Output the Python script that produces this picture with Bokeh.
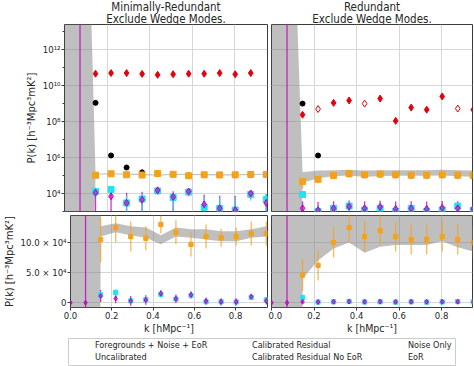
import numpy as np
from bokeh.plotting import figure
from bokeh.models import (Range1d, FixedTicker, Legend, LegendItem, Spacer, PrintfTickFormatter,
                          CustomJSTickFormatter)
from bokeh.layouts import column, row
from bokeh.embed import file_html
from bokeh.resources import INLINE
from bokeh.core.properties import value

nan = float("nan")

# ---------------- data ----------------
k_bins = [0.0, 0.073, 0.146, 0.219, 0.292, 0.365, 0.438, 0.511, 0.584, 0.657, 0.730, 0.803, 0.876, 0.949]
k_meas = k_bins[2:]

# Minimally-Redundant
fg_mr = [1.1e9, 1.3e6, 2.8e5, 1.5e5, 1.2e5, 1.15e5, 1.0e5, 1.1e5, 1.05e5, 1.05e5, 1.1e5, 1.1e5]
uncal_mr = [4.6e10, 5.0e10, 5.0e10, 4.5e10, 4.0e10, 4.3e10, 4.6e10, 4.6e10, 5.0e10, 4.3e10, 5.0e10, nan]
cal_mr = [10.5e4, 12.5e4, 11.0e4, 10.7e4, 13.0e4, 11.7e4, 9.7e4, 11.0e4, 10.8e4, 11.0e4, 11.5e4, 11.5e4]
cal_mr_err = [3.8e4, 2.5e4, 2.5e4, 2.0e4, 1.5e4, 2.0e4, 2.0e4, 2.0e4, 1.5e4, 1.5e4, 2.0e4, 2.0e4]
cal_noeor_mr = [1.3e4, 1.7e4, 3.0e3, 5.0e3, 1.4e4, 6.0e3, 1.2e4, 1.7e3, 1.5e3, 1.2e3, 9.0e3, 4.6e3]
cal_noeor_mr_err = [6e3, 5e3, 5e3, 5e3, 5e3, 5e3, 5e3, 5e3, 5e3, 5e3, 5e3, 5e3]
noise_mr = [0.0, 0.0, 1.1e4, 7e3, 3e3, 4.5e3, 1.5e4, 6.5e3, 1.3e4, 2.5e3, 1.5e3, 1.2e3, 1.0e4, 3e3]
noise_mr_err = [0.0, 1e40, 1.0e4, 8e3, 8e3, 8e3, 6e3, 7e3, 6e3, 6e3, 6e3, 6e3, 5e3, 6e3]
eor_lo_mr = [-1e37, -1e37, 11.0e4, 11.7e4, 11.2e4, 10.8e4, 9.7e4, 11.0e4, 10.8e4, 10.5e4, 10.2e4, 10.2e4, 10.8e4, 11.0e4]
eor_hi_mr = [1e37, 1e37, 12.7e4, 13.2e4, 12.7e4, 12.5e4, 11.2e4, 12.5e4, 12.2e4, 12.2e4, 11.9e4, 11.9e4, 12.2e4, 12.7e4]

# Redundant
fg_r = [1.0e9, 1.3e6, 1.0e5, 1.2e5, 1.05e5, 1.15e5, 1.05e5, 1.0e5, 1.0e5, 1.05e5, 1.0e5, 0.95e5]
uncal_r = [2.4e8, -5.0e8, 1.1e9, 1.5e9, -1.0e9, 1.9e9, 1.1e8, 6.0e8, 4.6e8, 2.5e9, -5.3e8, 4.6e8]
cal_r = [4.6e4, 6.2e4, 1.0e5, 1.25e5, 1.1e5, 1.2e5, 1.1e5, 1.05e5, 1.05e5, 1.1e5, 1.05e5, 1.0e5]
cal_r_err = [2.7e4, 2.5e4, 2.5e4, 2.5e4, 2.5e4, 2.5e4, 2.5e4, 2.5e4, 2.5e4, 2.5e4, 2.5e4, 2.5e4]
cal_noeor_r = [8.8e3, 1.0e3, 1.5e3, 2.0e3, 1.2e3, 1.5e3, 1.0e3, 1.5e3, 1.0e3, 1.2e3, 2.0e3, 1.2e3]
cal_noeor_r_err = [3e3, 1e3, 1e3, 1e3, 1e3, 1e3, 1e3, 1e3, 1e3, 1e3, 1e3, 1e3]
noise_r = [0.0, 0.0, 1.5e3, 1.2e3, 1.5e3, 1.9e3, 1.5e3, 1.8e3, 1.4e3, 1.5e3, 1.4e3, 1.6e3, 1.5e3, 1.4e3]
noise_r_err = [0.0, 1e40, 2.2e3, 2.2e3, 2.2e3, 2.2e3, 2.2e3, 2.2e3, 2.2e3, 2.2e3, 2.2e3, 2.2e3, 2.2e3, 2.2e3]
eor_lo_r = [-1e30, -1e30, 4.0e4, 7.0e4, 9.0e4, 10.0e4, 8.3e4, 9.3e4, 9.6e4, 9.6e4, 9.6e4, 10.2e4, 9.2e4, 8.5e4]
eor_hi_r = [1e30, 1e30, 1.5e5, 1.9e5, 2.0e5, 2.1e5, 1.9e5, 2.0e5, 2.0e5, 2.0e5, 2.0e5, 2.1e5, 2.0e5, 1.9e5]

titles = {"L": ["Minimally-Redundant", "Exclude Wedge Modes."],
          "R": ["Redundant", "Exclude Wedge Modes."]}
y_label = "P(k) [h⁻³Mpc³mK²]"
x_label = "k [hMpc⁻¹]"
x_ticks = [0.0, 0.2, 0.4, 0.6, 0.8]
log_ticks = [1e4, 1e6, 1e8, 1e10, 1e12]
log_labels = ["10⁴", "10⁶", "10⁸", "10¹⁰", "10¹²"]
log_minor = [1e3, 1e5, 1e7, 1e9, 1e11, 1e13]
lin_ticks = [0.0, 5e4, 1e5]
lin_labels = ["0", "5.0 × 10⁴", "10.0 × 10⁴"]

legend_labels = ["Foregrounds + Noise + EoR", "Uncalibrated", "Calibrated Residual",
                 "Calibrated Residual No EoR", "Noise Only", "EoR"]

# ---------------- style / layout ----------------
FONT_H = "DejaVu Sans Condensed"
FONT_V = "DejaVu Sans"
TXT = "#262626"
C_FG, C_UNC, C_CAL, C_NOEOR, C_NOISE, C_EOR = "black", "#e3000f", "#f5a21b", "#22e3f0", "#bf00bf", "grey"
PX_PER_K = 212.6
FW = {"L": 203, "R": 201}
BORD = {"L": (64, 1), "R": (3, 2)}
LOG_RANGE = (1e3, 10 ** 13.4)
LIN_RANGE = (-0.8e4, 14.5e4)
LOG_CLIP = 1e-30
LIN_CLIP = 1e7
HDR_H = 24


def x_max(side):
    return FW[side] / PX_PER_K


def tick_fmt(tv, tl):
    return CustomJSTickFormatter(args=dict(tvals=list(tv), tlabs=list(tl)),
                                 code="const i = tvals.indexOf(tick); return i < 0 ? '' : tlabs[i];")


def make_header(side):
    ml, mr = BORD[side]
    h = figure(width=ml + FW[side] + mr, height=HDR_H, output_backend="svg", toolbar_location=None,
               title=None, x_range=Range1d(0, x_max(side)), y_range=Range1d(0, 1),
               x_axis_location=None, y_axis_location=None,
               min_border_left=ml, min_border_right=mr, min_border_top=0, min_border_bottom=0)
    h.grid.visible = False
    h.outline_line_color = None
    xc = x_max(side) / 2
    h.text(x=[xc, xc], y=[0.75, 0.25], text=titles[side], text_align="center",
           text_baseline="middle", text_font=value(FONT_H), text_font_size="11.5px", text_color=TXT)
    return h


def make_fig(kind, side):
    ml, mr = BORD[side]
    mt, fh, mb = (0, 187, 4) if kind == "log" else (0, 92, 30)
    p = figure(width=ml + FW[side] + mr, height=mt + fh + mb, output_backend="svg",
               toolbar_location=None, title=None,
               x_range=Range1d(0, x_max(side)),
               y_range=Range1d(*(LOG_RANGE if kind == "log" else LIN_RANGE)),
               y_axis_type="log" if kind == "log" else "linear",
               x_axis_location="below" if kind == "lin" else None,
               y_axis_location="left" if side == "L" else None,
               min_border_left=ml, min_border_right=mr, min_border_top=mt, min_border_bottom=mb)
    p.outline_line_color = "#3a3a3a"
    p.outline_line_width = 1
    p.background_fill_color = "white"
    p.border_fill_color = "white"
    for ax in p.axis:
        ax.axis_line_color = None
        ax.major_tick_line_color = "#3a3a3a"
        ax.major_tick_out = 3
        ax.major_tick_in = 0
        ax.minor_tick_out = 0
        ax.minor_tick_in = 0
        ax.major_label_text_font = FONT_H
        ax.major_label_text_color = TXT
        ax.major_label_text_font_size = "9.5px"
        ax.major_label_standoff = 1
        ax.axis_label_text_color = TXT
        ax.axis_label_text_font_style = "normal"
        ax.axis_label_standoff = 0
    p.xgrid.ticker = FixedTicker(ticks=x_ticks, minor_ticks=[])
    if kind == "lin":
        p.xaxis.ticker = FixedTicker(ticks=x_ticks, minor_ticks=[])
        p.xaxis.formatter = PrintfTickFormatter(format="%.1f")
        p.xaxis.axis_label = x_label
        p.xaxis.axis_label_text_font = FONT_H
        p.xaxis.axis_label_text_font_size = "10.5px"
    ticks, labels, minor = (log_ticks, log_labels, log_minor) if kind == "log" else (lin_ticks, lin_labels, [])
    p.ygrid.ticker = FixedTicker(ticks=ticks, minor_ticks=[])
    if side == "L":
        p.yaxis.ticker = FixedTicker(ticks=ticks, minor_ticks=minor)
        p.yaxis.formatter = tick_fmt(ticks, labels)
        p.yaxis.axis_label = y_label
        p.yaxis.axis_label_text_font = FONT_V
        p.yaxis.axis_label_text_font_size = "10px"
        p.yaxis.axis_label_standoff = 3
        if kind == "log":
            p.yaxis.minor_tick_out = 2
            p.yaxis.minor_tick_line_color = "#3a3a3a"
    for g in (p.xgrid, p.ygrid):
        g.grid_line_color = "#d6d6d6"
        g.grid_line_width = 1
    return p


def clip_vals(lo, hi, log):
    lo = np.asarray(lo, float)
    hi = np.asarray(hi, float)
    if log:
        return np.clip(lo, LOG_CLIP, None), hi
    return np.clip(lo, -LIN_CLIP, LIN_CLIP), np.clip(hi, -LIN_CLIP, LIN_CLIP)


def errbar(p, x, y, e, color, log, width=1.3, alpha=1.0):
    y = np.asarray(y, float)
    e = np.asarray(e, float)
    lo, hi = clip_vals(y - e, y + e, log)
    p.segment(x0=x, y0=lo, x1=x, y1=hi, line_color=color, line_width=width, line_alpha=alpha)


def draw_panel(p, log, d):
    lo, hi = clip_vals(d["eor_lo"], d["eor_hi"], log)
    p.varea(x=k_bins, y1=lo, y2=hi, fill_color=C_EOR, fill_alpha=0.5)

    msz = 1.0 if log else 0.7
    errbar(p, k_bins, d["noise"], d["noise_err"], C_NOISE, log, alpha=0.8)
    errbar(p, k_meas, d["noeor"], d["noeor_err"], C_NOEOR, log, alpha=0.8)
    if log:
        p.scatter(k_meas, d["fg"], marker="circle", size=5, fill_color=C_FG, line_color=C_FG)
    errbar(p, k_meas, d["cal"], d["cal_err"], C_CAL, log, alpha=0.75)
    p.scatter(k_meas, d["cal"], marker="square", size=6 * msz, fill_color=C_CAL, line_color=C_CAL)
    p.scatter(k_meas, d["noeor"], marker="square", size=6 * msz, fill_color=C_NOEOR, line_color=C_NOEOR)
    p.scatter(k_bins, d["noise"], marker="diamond", size=7 * msz, fill_color=C_NOISE,
              line_color=C_NOISE, fill_alpha=0.6)
    if log:
        u = np.asarray(d["uncal"], float)
        pos = np.where(u > 0, u, nan)
        neg = np.where(u < 0, -u, nan)
        p.scatter(k_meas, pos, marker="diamond", size=7, fill_color=C_UNC, line_color=C_UNC)
        p.scatter(k_meas, neg, marker="diamond", size=7, fill_color="white", line_color=C_UNC,
                  line_width=1)


data = {
    "L": dict(fg=fg_mr, uncal=uncal_mr, cal=cal_mr, cal_err=cal_mr_err, noeor=cal_noeor_mr,
              noeor_err=cal_noeor_mr_err, noise=noise_mr, noise_err=noise_mr_err,
              eor_lo=eor_lo_mr, eor_hi=eor_hi_mr),
    "R": dict(fg=fg_r, uncal=uncal_r, cal=cal_r, cal_err=cal_r_err, noeor=cal_noeor_r,
              noeor_err=cal_noeor_r_err, noise=noise_r, noise_err=noise_r_err,
              eor_lo=eor_lo_r, eor_hi=eor_hi_r),
}

figs = {}
for kind in ("log", "lin"):
    for side in ("L", "R"):
        p = make_fig(kind, side)
        draw_panel(p, kind == "log", data[side])
        figs[(kind, side)] = p

# ---------------- legend ----------------
LH = 29
lf = figure(width=388, height=LH, output_backend="svg", toolbar_location=None, title=None,
            x_range=Range1d(0, 1), y_range=Range1d(0, 1), x_axis_location=None, y_axis_location=None,
            min_border_left=0, min_border_right=1, min_border_top=1, min_border_bottom=0)
lf.grid.visible = False
lf.outline_line_color = "#cccccc"
lf.outline_line_width = 1
r_fg = lf.scatter([], [], marker="circle", size=5, color=C_FG)
r_unc = lf.scatter([], [], marker="diamond", size=7, color=C_UNC)
r_cal = lf.scatter([], [], marker="square", size=6, color=C_CAL)
r_noeor = lf.scatter([], [], marker="square", size=6, color=C_NOEOR)
r_noise = lf.scatter([], [], marker="diamond", size=7, color=C_NOISE)
r_eor = lf.quad(left=[], right=[], top=[], bottom=[], fill_color=C_EOR, fill_alpha=0.5, line_color=None)
groups = [([r_fg, r_unc], legend_labels[0:2], 4, 16, 12),
          ([r_cal, r_noeor], legend_labels[2:4], 161, 16, 12),
          ([r_noise, r_eor], legend_labels[4:6], 315, 18, 8)]
for rends, labs, x0, gw, gh in groups:
    leg = Legend(items=[LegendItem(label=l, renderers=[r]) for r, l in zip(rends, labs)],
                 location=(x0, 3), orientation="vertical", padding=0, margin=0, spacing=0,
                 glyph_width=gw, glyph_height=gh, label_height=12, label_standoff=7,
                 label_text_font=FONT_H, label_text_font_size="9px", label_text_color=TXT,
                 border_line_color=None, background_fill_alpha=0)
    lf.add_layout(leg, "center")

layout = column(
    row(make_header("L"), make_header("R")),
    row(figs[("log", "L")], figs[("log", "R")]),
    row(figs[("lin", "L")], figs[("lin", "R")]),
    row(Spacer(width=68, height=LH), lf),
)

open("out.html", "w").write(file_html(layout, INLINE))
